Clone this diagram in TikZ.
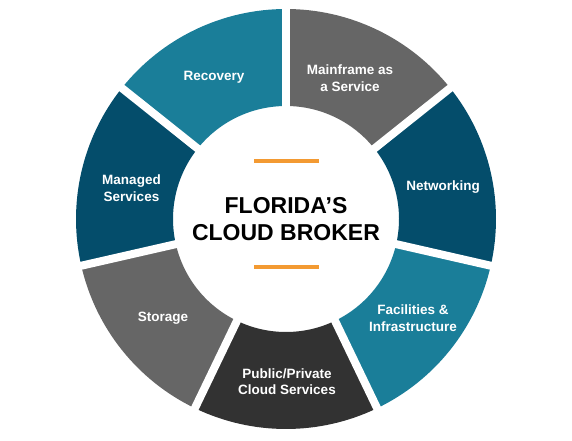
\documentclass[tikz,border=0pt]{standalone}
\usepackage{fontspec}
\setmainfont{Liberation Sans}
\usepackage{tikz}

\definecolor{brokerteal}{RGB}{26,126,153}
\definecolor{brokernavy}{RGB}{4,77,107}
\definecolor{brokergray}{RGB}{102,102,102}
\definecolor{brokerdark}{RGB}{50,50,50}
\definecolor{brokerorange}{RGB}{243,154,50}

\begin{document}
\begin{tikzpicture}[x=1pt, y=1pt,
	seglabel/.style={text=white, align=center, font=\bfseries\fontsize{13.5}{16.5}\selectfont},
	bar/.style={brokerorange, line width=4pt}]
			\useasboundingbox (0,0) rectangle (572,440);
			\coordinate (C) at (286,221);
			\begin{scope}[shift={(C)}]
			\foreach \col [count=\k from 0] in {brokergray,brokernavy,brokerteal,brokerdark,brokergray,brokernavy,brokerteal}{
				\pgfmathsetmacro\a{90-\k*360/7}
				\pgfmathsetmacro\b{\a-360/7}
				\fill[\col] (\a:210) arc[start angle=\a, end angle=\b, radius=210pt]
				-- (\b:113) arc[start angle=\b, end angle=\a, radius=113pt] -- cycle;
			}
			\foreach \k in {0,...,6}
				\draw[white, line width=8pt] ({90-\k*360/7}:100) -- ({90-\k*360/7}:220);
			\end{scope}
			\node[seglabel] (mainframe) at (350,362) {Mainframe as\\a Service};
			\node[seglabel] (networking) at (443,253) {Networking};
			\node[seglabel] (facilities) at (413,122) {Facilities \&\\Infrastructure};
			\node[seglabel] (cloud) at (287,58.5) {Public/Private\\Cloud Services};
			\node[seglabel] (storage) at (163,122) {Storage};
			\node[seglabel] (managed) at (131.5,252) {Managed\\Services};
			\node[seglabel] (recovery) at (214,363) {Recovery};
			\node[align=center, font=\bfseries\fontsize{23}{27}\selectfont] (title) at (C) {FLORIDA’S\\CLOUD BROKER};
			\coordinate (T1) at (254,279.3);
			\coordinate (T2) at (319,279.3);
			\coordinate (B1) at (254,173.3);
			\coordinate (B2) at (319,173.3);
			\draw[bar] (T1) -- (T2);
			\draw[bar] (B1) -- (B2);
			\end{tikzpicture}
\end{document}
